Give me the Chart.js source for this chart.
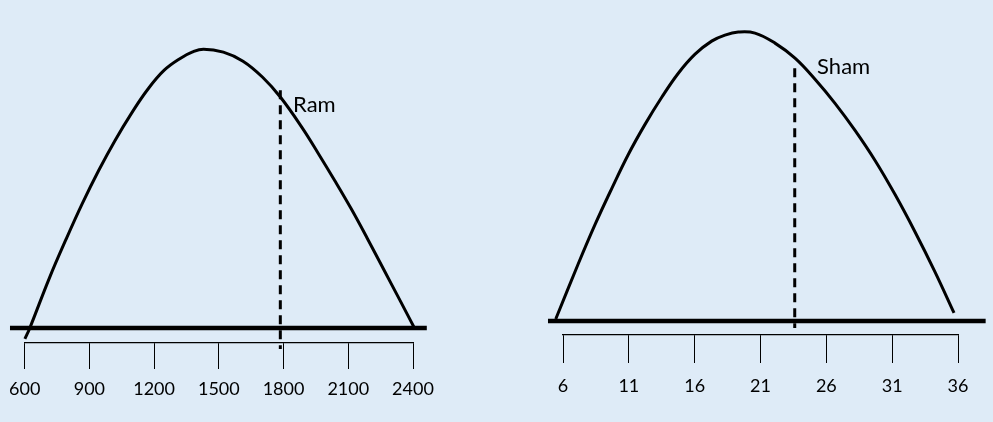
<!DOCTYPE html>
<html><head><meta charset="utf-8">
<script src="https://cdn.jsdelivr.net/npm/chart.js@4/dist/chart.umd.min.js"></script>
<style>
html,body{margin:0;padding:0;background:#deebf7;width:993px;height:422px;overflow:hidden;}
.box{position:absolute;top:0;height:422px;}
#b1{left:0;width:496px;} #b2{left:496px;width:497px;}
</style></head><body>
<div class="box" id="b1"><canvas id="c1"></canvas></div>
<div class="box" id="b2"><canvas id="c2"></canvas></div>
<script>
// ---- Left panel (Ram) ----
const ramX = [601, 624, 715, 791, 867, 943, 1019, 1095, 1171, 1247, 1323, 1376, 1429, 1521, 1612, 1703, 1786, 1885, 1961, 2037, 2113, 2189, 2265, 2341, 2409, 2420];
const ramY = [-11, 0, 50, 88, 124, 157, 187, 214, 238, 257, 269, 275, 278, 275, 266, 250, 230, 200, 174, 147, 119, 89, 58, 27, -1, -5];
const ramTicks = [600, 900, 1200, 1500, 1800, 2100, 2400];
const ramMarkX = 1785;
const ramMarkY = [237, -21];
const ramBaseX = [532, 2464];
const ramLabel = "Ram";

// ---- Right panel (Sham) ----
const shamX = [5.45, 7.16, 8.43, 9.70, 10.96, 12.23, 13.50, 14.76, 16.03, 17.29, 18.30, 19.31, 20.58, 22.10, 23.62, 25.14, 26.66, 28.18, 29.70, 31.22, 32.73, 34.25, 35.70];
const shamY = [2, 57, 96, 132, 166, 196, 223, 247, 266, 279, 285, 288, 287, 277, 262, 241, 217, 190, 160, 126, 89, 49, 8];
const shamTicks = [6, 11, 16, 21, 26, 31, 36];
const shamMarkX = 23.6;
const shamMarkY = [252, -7];
const shamBaseX = [4.86, 38.1];
const shamLabel = "Sham";

const labelPlugin = {
  id: 'markLabel',
  afterDatasetsDraw(chart) {
    const o = chart.options.plugins.markLabel;
    const ctx = chart.ctx;
    const x = chart.scales.x.getPixelForValue(o.x);
    const y = chart.scales.y.getPixelForValue(o.y);
    ctx.save();
    ctx.font = '22px Lato';
    ctx.fillStyle = '#000';
    ctx.textAlign = 'left';
    ctx.textBaseline = 'middle';
    ctx.fillText(o.text, x, y);
    ctx.restore();
  }
};

function makeChart(id, xs, ys, ticks, markX, markY, baseX, label, cfg) {
  const curve = xs.map((x, i) => ({x: x, y: ys[i]}));
  return new Chart(document.getElementById(id), {
    type: 'line',
    data: {
      datasets: [
        {data: [{x: baseX[0], y: 0}, {x: baseX[1], y: 0}], borderColor: '#000', borderWidth: 4.5, pointRadius: 0, clip: false},
        {data: curve, borderColor: '#000', borderWidth: 3, pointRadius: 0, tension: 0.4, clip: false},
        {data: [{x: markX, y: markY[0]}, {x: markX, y: markY[1]}], borderColor: '#000', borderWidth: 3, borderDash: [9, 6], pointRadius: 0, clip: false}
      ]
    },
    options: {
      responsive: true,
      maintainAspectRatio: false,
      animation: false,
      layout: {padding: {left: cfg.padL, right: cfg.padR, top: 0, bottom: cfg.padB}},
      plugins: {
        legend: {display: false},
        tooltip: {enabled: false},
        markLabel: {x: cfg.labelX, y: cfg.labelY, text: label}
      },
      scales: {
        x: {
          type: 'linear',
          min: ticks[0],
          max: ticks[ticks.length - 1],
          afterBuildTicks: (s) => { s.ticks = ticks.map(v => ({value: v})); },
          grid: {drawOnChartArea: false, drawTicks: true, tickLength: cfg.tickLen, color: '#000', lineWidth: 1},
          border: {display: true, color: '#000', width: 1.2},
          ticks: {padding: cfg.tickPad, color: '#000', font: {family: 'Lato', size: 18}, maxRotation: 0, autoSkip: false,
                  callback: (v) => String(v)}
        },
        y: {type: 'linear', display: false, min: cfg.yMin, max: cfg.yMax}
      }
    },
    plugins: [labelPlugin]
  });
}

makeChart('c1', ramX, ramY, ramTicks, ramMarkX, ramMarkY, ramBaseX, ramLabel,
  {padL: 18, padR: 83, padB: 13.4, tickLen: 26, tickPad: 9, yMin: -15, yMax: 327, labelX: 1844, labelY: 222});
makeChart('c2', shamX, shamY, shamTicks, shamMarkX, shamMarkY, shamBaseX, shamLabel,
  {padL: 67, padR: 35, padB: 13.4, tickLen: 28, tickPad: 12, yMin: -14, yMax: 320, labelX: 25.3, labelY: 253});
</script>
</body></html>
